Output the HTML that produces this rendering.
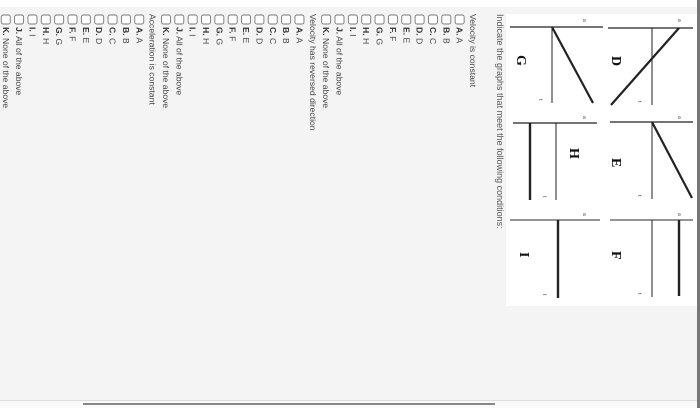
<!DOCTYPE html>
<html><head><meta charset="utf-8"><style>
html,body{margin:0;padding:0;width:700px;height:408px;overflow:hidden;background:#f4f4f4}
svg{display:block}
text{font-family:"Liberation Sans",sans-serif;fill:#444}
text.serif{font-family:"Liberation Serif",serif;font-weight:bold;font-size:14px;fill:#111}
</style></head><body>
<svg width="700" height="408" viewBox="0 0 700 408" xmlns="http://www.w3.org/2000/svg">
<rect x="0" y="0" width="700" height="408" fill="#f4f4f4"/>
<rect x="0" y="0" width="700" height="7" fill="#fff"/>
<rect x="0" y="400" width="700" height="8" fill="#fafafa"/>
<line x1="0" y1="400.5" x2="700" y2="400.5" stroke="#ddd"/>
<line x1="83" y1="404" x2="495" y2="404" stroke="#888" stroke-width="2"/>
<rect x="697" y="0" width="3" height="408" fill="#777"/>
<rect x="506" y="14" width="191" height="292" fill="#fff"/>
<g stroke="#222" fill="none">
 <line x1="608" y1="28" x2="693" y2="28" stroke-width="1.2"/>
 <line x1="652" y1="28" x2="652" y2="105" stroke-width="1"/>
 <line x1="679" y1="28" x2="611" y2="105" stroke-width="2.2"/>
 <line x1="510" y1="27" x2="603" y2="27" stroke-width="1.2"/>
 <line x1="552" y1="27" x2="552" y2="103" stroke-width="1"/>
 <line x1="552" y1="27" x2="593" y2="103" stroke-width="2.2"/>
 <line x1="610" y1="122" x2="693" y2="122" stroke-width="1.2"/>
 <line x1="652" y1="122" x2="652" y2="199" stroke-width="1"/>
 <line x1="652" y1="122" x2="692" y2="198" stroke-width="2.2"/>
 <line x1="513" y1="123" x2="597" y2="123" stroke-width="1.2"/>
 <line x1="556" y1="123" x2="556" y2="200" stroke-width="1"/>
 <line x1="530" y1="123" x2="530" y2="200" stroke-width="2.4"/>
 <line x1="610" y1="220" x2="693" y2="220" stroke-width="1.2" stroke="#555"/>
 <line x1="652" y1="220" x2="652" y2="297" stroke-width="1"/>
 <line x1="679" y1="220" x2="679" y2="296" stroke-width="2.4"/>
 <line x1="510" y1="220" x2="600" y2="220" stroke-width="1.2" stroke="#555"/>
 <line x1="558" y1="220" x2="558" y2="298" stroke-width="2.4"/>
</g>
<text class="serif" transform="translate(612,56) rotate(90)">D</text>
<text class="serif" transform="translate(517,55) rotate(90)">G</text>
<text class="serif" transform="translate(612,158) rotate(90)">E</text>
<text class="serif" transform="translate(570,148) rotate(90)">H</text>
<text class="serif" transform="translate(612,251) rotate(90)">F</text>
<text class="serif" transform="translate(520,252) rotate(90)">I</text>
<g style="font-size:5px">
 <text transform="translate(678,19) rotate(90)">a</text>
 <text transform="translate(583,19) rotate(90)">a</text>
 <text transform="translate(678,116) rotate(90)">a</text>
 <text transform="translate(583,116) rotate(90)">a</text>
 <text transform="translate(678,213) rotate(90)">a</text>
 <text transform="translate(583,213) rotate(90)">a</text>
 <text transform="translate(638,101) rotate(90)">t</text>
 <text transform="translate(539,99) rotate(90)">t</text>
 <text transform="translate(638,195) rotate(90)">t</text>
 <text transform="translate(543,196) rotate(90)">t</text>
 <text transform="translate(638,293) rotate(90)">t</text>
 <text transform="translate(543,294) rotate(90)">t</text>
</g>
<text transform="translate(497,14) rotate(90)" style="font-size:9px;fill:#555">Indicate the graphs that meet the following conditions:</text>
<g id="rows" style="font-size:8.6px"></g>
</svg>
<script>
(function(){
var g=document.getElementById('rows');var ns='http://www.w3.org/2000/svg';
var heads=['Velocity is constant','Velocity has reversed direction','Acceleration is constant'];
var opts=[['A.','A'],['B.','B'],['C.','C'],['D.','D'],['E.','E'],['F.','F'],['G.','G'],['H.','H'],['I.','I'],['J.','All of the above'],['K.','None of the above']];
var n=0;
for(var h=0;h<3;h++){
 var cx=473-13.35*n;
 var t=document.createElementNS(ns,'text');
 t.setAttribute('transform','translate('+(cx-3)+',14) rotate(90)');
 t.textContent=heads[h];g.appendChild(t);n++;
 for(var i=0;i<opts.length;i++){
  cx=473-13.35*n;
  var r=document.createElementNS(ns,'rect');
  r.setAttribute('x',cx-4.5);r.setAttribute('y',15);r.setAttribute('width',9);r.setAttribute('height',9);
  r.setAttribute('rx',2);r.setAttribute('fill','#fff');r.setAttribute('stroke','#777');r.setAttribute('stroke-width','0.9');
  g.appendChild(r);
  var t2=document.createElementNS(ns,'text');
  t2.setAttribute('transform','translate('+(cx-3)+',27) rotate(90)');
  var b=document.createElementNS(ns,'tspan');b.setAttribute('font-weight','bold');b.setAttribute('fill','#333');b.textContent=opts[i][0];
  t2.appendChild(b);
  var s=document.createElementNS(ns,'tspan');s.textContent=' '+opts[i][1];t2.appendChild(s);
  g.appendChild(t2);n++;
 }
}
})();
</script>
</body></html>
